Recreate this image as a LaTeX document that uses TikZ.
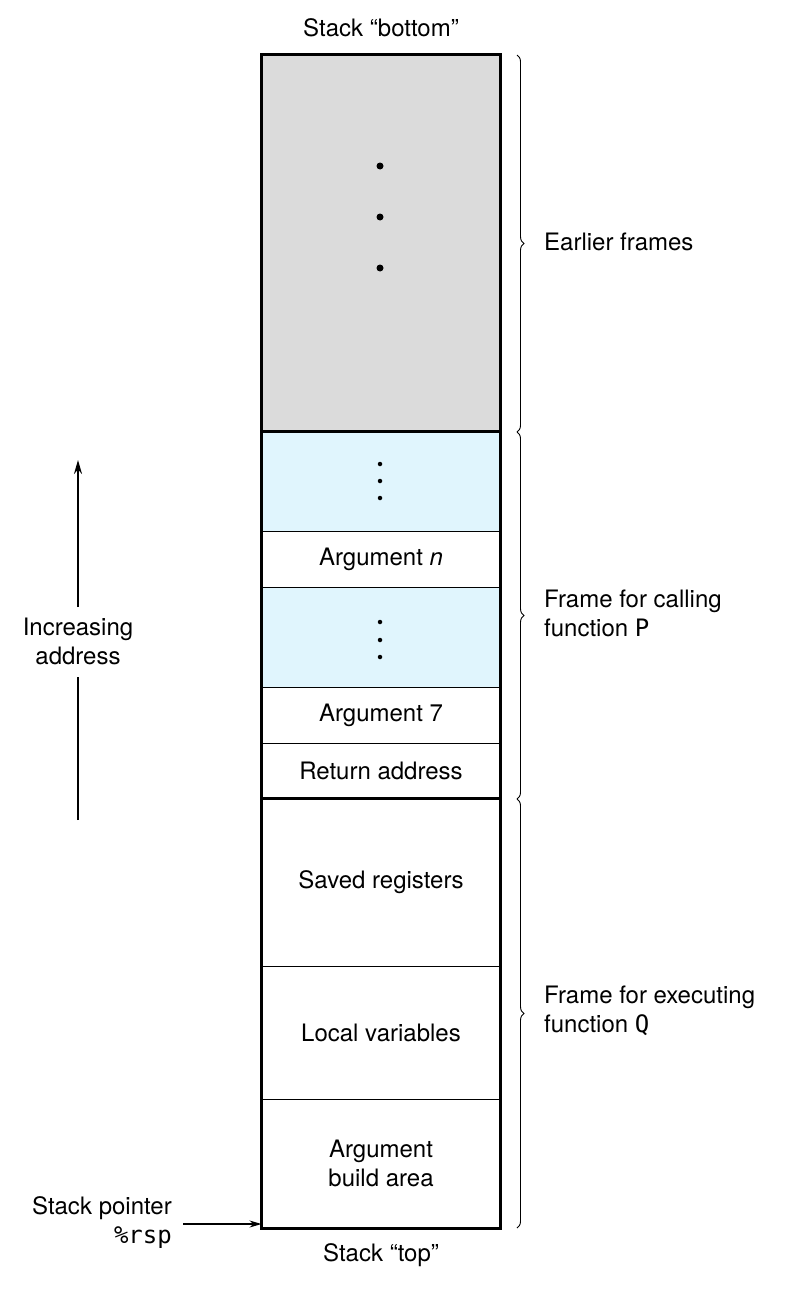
\documentclass[tikz,border=0pt]{standalone}
\usepackage{fontspec}
\setmainfont{TeX Gyre Heros}
\setmonofont{DejaVu Sans Mono}
\usetikzlibrary{decorations.pathreplacing,arrows.meta}
\tikzset{
  cell/.style={draw=black, line width=1pt, minimum width=238pt, inner sep=0pt, align=center},
  lbl/.style={align=left, inner sep=0pt},
  brace_style/.style={decorate, decoration={brace, amplitude=7pt}, line width=0.9pt},
  dot/.style={circle, fill=black, inner sep=0pt, minimum size=7pt},
  sdot/.style={circle, fill=black, inner sep=0pt, minimum size=4.5pt}
}
\begin{document}
\begin{tikzpicture}[x=1pt, y=-1pt, font=\fontsize{24}{29}\selectfont]
  \useasboundingbox (0,0) rectangle (800,1295);
  % stack cells
  \node[cell, fill=gray!28, minimum height=377pt] (early) at (381,243.5) {};
  \node[cell, fill=cyan!12, minimum height=99pt] (blueA) at (381,481.5) {};
  \node[cell, minimum height=56pt] (argn) at (381,559) {Argument \textit{n}};
  \node[cell, fill=cyan!12, minimum height=100pt] (blueB) at (381,637) {};
  \node[cell, minimum height=56pt] (arg7) at (381,715) {Argument 7};
  \node[cell, minimum height=56pt] (ret) at (381,771) {Return address};
  \node[cell, minimum height=167pt] (saved) at (381,882.5) {Saved registers};
  \node[cell, minimum height=133pt] (local) at (381,1032.5) {Local variables};
  \node[cell, minimum height=129pt] (build) at (381,1163.5) {Argument\\build area};
  % thick outlines
  \draw[line width=2.8pt] (early.north west) rectangle (build.south east);
  \draw[line width=2.8pt] (blueA.north west) -- (blueA.north east);
  \draw[line width=2.8pt] (saved.north west) -- (saved.north east);
  % dots
  \foreach \y in {166,217,268} \node[dot] at (380,\y) {};
  \foreach \y in {464,481,498,622,640,657} \node[sdot] at (380,\y) {};
  % titles
  \node (bottom) at (381,28) {Stack “bottom”};
  \node (top) at (381,1255) {Stack “top”};
  % braces
  \coordinate (bA) at (517,55);
  \coordinate (bB) at (517,432);
  \coordinate (bC) at (517,799);
  \coordinate (bD) at (517,1228);
  \draw[brace_style] (bA) -- (bB);
  \draw[brace_style] (bB) -- (bC);
  \draw[brace_style] (bC) -- (bD);
  \node[lbl, anchor=west] (earlier) at (544,242) {Earlier frames};
  \node[lbl, anchor=west] (frameP) at (544,613) {Frame for calling\\function \texttt{P}};
  \node[lbl, anchor=west] (frameQ) at (544,1011) {Frame for executing\\function \texttt{Q}};
  % increasing address
  \node[align=center, inner sep=2pt] (incr) at (78,641) {Increasing\\address};
  \coordinate (arrLow) at (78,820);
  \coordinate (arrHigh) at (78,460);
  \draw[line width=2pt] (arrLow) -- (78,677);
  \draw[line width=2pt, -{Stealth[length=14pt,width=8pt]}] (78,607) -- (arrHigh);
  % stack pointer
  \node[align=right, anchor=east, inner sep=0pt] (sp) at (172,1223) {Stack pointer\\\texttt{\%rsp}};
  \coordinate (spTail) at (183,1224);
  \draw[line width=1.2pt, -{Stealth[length=12pt,width=7pt]}] (spTail) -- (build.south west |- spTail);
\end{tikzpicture}
\end{document}
